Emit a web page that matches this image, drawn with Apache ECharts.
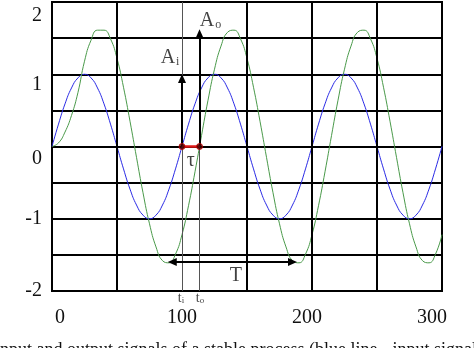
<!DOCTYPE html>
<html><head><meta charset="utf-8">
<script src="https://cdn.jsdelivr.net/npm/echarts@6/dist/echarts.min.js"></script>
<style>html,body{margin:0;padding:0;background:#fff;overflow:hidden}#c{width:474px;height:348px}</style>
</head><body><div id="c"></div>
<script>
// x positions (time)
const xValues = [0,5,10,15,20,25,30,35,40,45,50,55,60,65,70,75,80,85,90,95,
  100,105,110,115,120,125,130,135,140,145,150,155,160,165,170,175,180,185,190,195,
  200,205,210,215,220,225,230,235,240,245,250,255,260,265,270,275,280,285,290,295,300];
// input signal (blue)
const inputSignal = [0,0.31,0.59,0.81,0.95,1,0.95,0.81,0.59,0.31,0,-0.31,-0.59,-0.81,-0.95,-1,-0.95,-0.81,-0.59,-0.31,
  0,0.31,0.59,0.81,0.95,1,0.95,0.81,0.59,0.31,0,-0.31,-0.59,-0.81,-0.95,-1,-0.95,-0.81,-0.59,-0.31,
  0,0.31,0.59,0.81,0.95,1,0.95,0.81,0.59,0.31,0,-0.31,-0.59,-0.81,-0.95,-1,-0.95,-0.81,-0.59,-0.31,0];
// output signal (green)
const outputSignal = [0,0.05,0.2,0.43,0.75,1.18,1.47,1.61,1.61,1.49,1.22,0.82,0.35,-0.15,-0.64,-1.07,-1.39,-1.58,-1.61,-1.49,
  -1.22,-0.82,-0.35,0.15,0.64,1.07,1.39,1.58,1.61,1.49,1.22,0.82,0.35,-0.15,-0.64,-1.07,-1.39,-1.58,-1.61,-1.49,
  -1.22,-0.82,-0.35,0.15,0.64,1.07,1.39,1.58,1.61,1.49,1.22,0.82,0.35,-0.15,-0.64,-1.07,-1.39,-1.58,-1.61,-1.49,-1.22];

const xTickValues = [0,100,200,300];
const xTickLabels = ['0','100','200','300'];
const yTickValues = [2,1,0,-1,-2];
const yTickLabels = ['2','1','0','-1','-2'];
const xGridLines = [50,150,200,250];
const tI = 100, tO = 113.5;
const arrowInTop = 0.94, arrowOutTop = 1.56;
const periodStart = 92.5, periodEnd = 185, periodLevel = -1.6;

const serif = "'Liberation Serif','Times New Roman',serif";
const chart = echarts.init(document.getElementById('c'), null, {renderer:'canvas'});

const xRich = {x0:{padding:[0,0,0,16]}, x1:{}, x2:{padding:[0,10,0,0]}, x3:{padding:[0,20,0,0]}};
const yRich = {y0:{padding:[28,0,0,0]}, y1:{padding:[20,0,0,0]}, y2:{padding:[24,0,0,0]}, y3:{}, y4:{}};

const annotations = [
  [90.8, 1.23, 'A{s|i}'],
  [121.9, 1.74, 'A{s|o}'],
  [106.8, -0.2, 'τ'],
  [141.5, -1.79, 'T']
];
const timeLabels = [
  [tI - 0.8, -2.1, 't{s|i}'],
  [tO + 0.3, -2.1, 't{s|o}']
];

chart.setOption({
  animation:false,
  backgroundColor:'#fff',
  grid:{left:52, right:32, top:2, bottom:57, show:true, borderColor:'#000', borderWidth:2, backgroundColor:'#fff'},
  xAxis:{type:'value', min:0, max:300, interval:50,
    axisLine:{show:false}, axisTick:{show:false}, splitLine:{show:false},
    axisLabel:{margin:17, fontFamily:serif, fontSize:20, color:'#111', rich:xRich,
      formatter:(v)=>{const i=xTickValues.indexOf(v); return i<0?'':'{x'+i+'|'+xTickLabels[i]+'}';}}},
  yAxis:{type:'value', min:-2, max:2, interval:0.5,
    axisLine:{show:false}, axisTick:{show:false},
    splitLine:{show:true, lineStyle:{color:'#000', width:2}},
    axisLabel:{margin:10, fontFamily:serif, fontSize:20, color:'#111', rich:yRich,
      formatter:(v)=>{const i=yTickValues.indexOf(v); return i<0?'':'{y'+i+'|'+yTickLabels[i]+'}';}}},
  graphic:[{type:'text', left:-6, top:341, style:{text:'Input and output signals of a stable process (blue line - input signal, green line - output signal)', font:"18px 'Liberation Serif'", fill:'#111'}}],
  series:[
    {type:'line', data:[], silent:true, z:1,
      markLine:{silent:true, symbol:['none','none'], label:{show:false}, animation:false,
        data:[
          ...xGridLines.map(v=>({xAxis:v, lineStyle:{color:'#000', width:2, type:'solid'}})),
          {xAxis:tI, lineStyle:{color:'#555', width:1, type:'solid'}},
          [{coord:[tO,-2], lineStyle:{color:'#555', width:1, type:'solid'}},{coord:[tO,0]}]
        ]}},
    {type:'line', name:'input', data:xValues.map((x,i)=>[x,inputSignal[i]]), smooth:true, showSymbol:false, symbol:'none',
      lineStyle:{color:'#2a2ae6', width:1}, z:3},
    {type:'line', name:'output', data:xValues.map((x,i)=>[x,outputSignal[i]]), smooth:true, showSymbol:false, symbol:'none',
      lineStyle:{color:'#4a9a4a', width:1}, z:3},
    {type:'line', data:[], silent:true, z:5,
      markLine:{silent:true, symbol:['none','triangle'], symbolSize:[8,9], label:{show:false}, animation:false,
        lineStyle:{color:'#000', width:2, type:'solid'},
        data:[
          [{coord:[tI,0]},{coord:[tI,arrowInTop]}],
          [{coord:[tO,0]},{coord:[tO,arrowOutTop]}],
          [{coord:[periodStart,periodLevel], symbol:'triangle'},{coord:[periodEnd,periodLevel]}],
          [{coord:[tI,0], lineStyle:{color:'#e01818', width:2.5}, symbol:'none'},{coord:[tO,0], symbol:'none'}]
        ]}},
    {type:'scatter', data:[[tI,0],[tO,0]], symbolSize:6, itemStyle:{color:'#400', borderColor:'#c00', borderWidth:1}, z:6, silent:true},
    {type:'scatter', data:annotations, symbolSize:0, clip:false, silent:true, z:7,
      label:{show:true, position:'inside', formatter:(p)=>p.data[2], fontFamily:serif, fontSize:20, color:'#111',
        rich:{s:{fontFamily:serif, fontSize:12, color:'#111', padding:[8,0,0,1]}}}},
    {type:'scatter', data:timeLabels, symbolSize:0, clip:false, silent:true, z:7,
      label:{show:true, position:'inside', formatter:(p)=>p.data[2], fontFamily:serif, fontSize:14, color:'#111',
        rich:{s:{fontFamily:serif, fontSize:9, color:'#111', padding:[5,0,0,0]}}}}
  ]
});
</script>
</body></html>
